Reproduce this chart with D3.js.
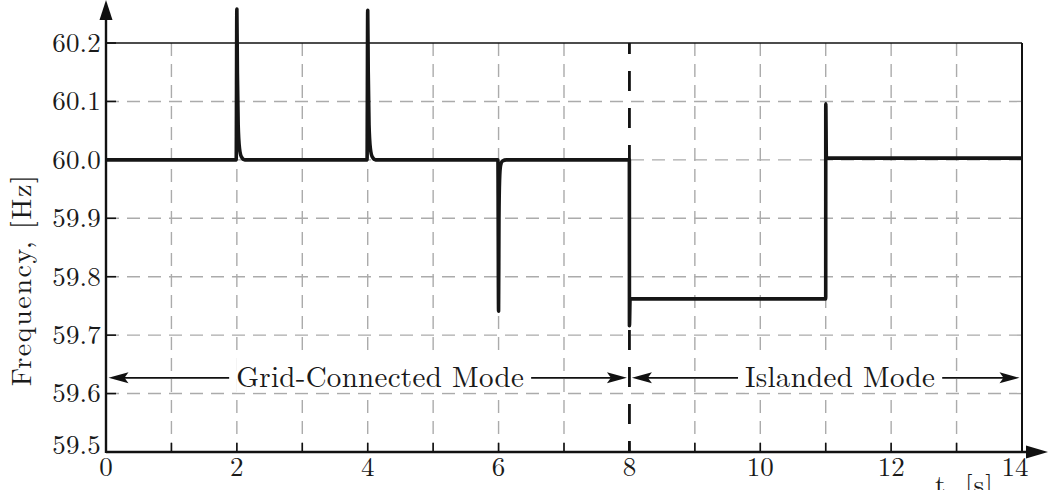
<!DOCTYPE html>
<html>
<head>
<meta charset="utf-8">
<script src="https://cdn.jsdelivr.net/npm/d3@7"></script>
<style>
  body { margin: 0; background: #fff; }
  svg { display: block; }
</style>
</head>
<body>
<div id="chart"></div>
<script>
// frequency trace (time in s, frequency in Hz)
var timeS = [0, 1.99, 2.0, 2.008, 2.02, 2.04, 2.07, 2.12,
    3.99, 4.0, 4.008, 4.02, 4.04, 4.07, 4.12,
    5.99, 6.0, 6.006, 6.015, 6.03, 6.06, 6.12,
    7.999, 8.0, 8.01, 11.0, 11.001, 11.01, 14];
var freqHz = [60.0, 60.0, 60.258, 60.15, 60.06, 60.02, 60.005, 60.0,
    60.0, 60.256, 60.15, 60.06, 60.02, 60.005, 60.0,
    60.0, 59.741, 59.9, 59.965, 59.99, 59.998, 60.0,
    60.0, 59.716, 59.762, 59.762, 60.096, 60.003, 60.003];

var xTicks = [0, 2, 4, 6, 8, 10, 12, 14];
var xGrid = [1, 2, 3, 4, 5, 6, 7, 9, 10, 11, 12, 13];
var yTicks = [59.5, 59.6, 59.7, 59.8, 59.9, 60.0, 60.1, 60.2];
var yGrid = [59.6, 59.7, 59.8, 59.9, 60.0, 60.1];

var switchTime = 8; // grid -> island
var modeNames = ["Grid-Connected Mode", "Islanded Mode"];
var modeSpans = [[0, 8], [8, 14]];
var modeCenters = [4.19, 11.22];
var modeLevel = 59.627;

var W = 1048, H = 490;
var plotLeft = 106, plotRight = 1022, plotTop = 43, plotBottom = 452;

// pick the first serif face that is really installed
function hasFont(name) {
    var ctx = document.createElement("canvas").getContext("2d");
    var probe = "mmmmmwwwlli 10.2 Hz";
    ctx.font = "40px monospace";
    var a = ctx.measureText(probe).width;
    ctx.font = "40px '" + name + "', monospace";
    var b = ctx.measureText(probe).width;
    return a !== b;
}
var serifNames = ["Latin Modern Roman", "CMU Serif", "Liberation Serif", "Tinos",
    "Times New Roman", "Nimbus Roman", "Nimbus Roman No9 L", "FreeSerif",
    "DejaVu Serif", "Noto Serif", "Noto Serif CJK SC", "Noto Serif CJK JP"];
var face = serifNames.filter(hasFont)[0];
var font = face ? "'" + face + "', serif" : "'Noto Sans', sans-serif";
var isSerif = !!face;

var x = d3.scaleLinear().domain([0, 14]).range([plotLeft, plotRight]);
var y = d3.scaleLinear().domain([59.5, 60.2]).range([plotBottom, plotTop]);

var svg = d3.select("#chart").append("svg")
    .attr("width", W)
    .attr("height", H)
    .style("font-family", font);

// grid
svg.append("g").selectAll("line")
    .data(xGrid)
    .enter().append("line")
    .attr("x1", function (d) { return x(d); })
    .attr("x2", function (d) { return x(d); })
    .attr("y1", plotTop).attr("y2", plotBottom)
    .attr("stroke", "#ababab")
    .attr("stroke-width", 1.4)
    .attr("stroke-dasharray", "13,8");
svg.append("g").selectAll("line")
    .data(yGrid)
    .enter().append("line")
    .attr("x1", plotLeft).attr("x2", plotRight)
    .attr("y1", function (d) { return y(d); })
    .attr("y2", function (d) { return y(d); })
    .attr("stroke", "#ababab")
    .attr("stroke-width", 1.4)
    .attr("stroke-dasharray", "13,8");

// top and right frame
svg.append("line")
    .attr("x1", plotLeft).attr("x2", plotRight)
    .attr("y1", y(60.2)).attr("y2", y(60.2))
    .attr("stroke", "#111").attr("stroke-width", 1.3);
svg.append("line")
    .attr("x1", plotRight).attr("x2", plotRight)
    .attr("y1", plotTop).attr("y2", plotBottom)
    .attr("stroke", "#111").attr("stroke-width", 2);

// ticks pointing inward
svg.append("g").selectAll("line")
    .data(d3.range(0, 15))
    .enter().append("line")
    .attr("x1", function (d) { return x(d); })
    .attr("x2", function (d) { return x(d); })
    .attr("y1", plotBottom).attr("y2", plotBottom - 9)
    .attr("stroke", "#111").attr("stroke-width", 1.6);
svg.append("g").selectAll("line")
    .data(yTicks)
    .enter().append("line")
    .attr("x1", plotLeft).attr("x2", plotLeft + 10)
    .attr("y1", function (d) { return y(d); })
    .attr("y2", function (d) { return y(d); })
    .attr("stroke", "#111").attr("stroke-width", 1.6);

// switching instant
svg.append("line")
    .attr("x1", x(switchTime)).attr("x2", x(switchTime))
    .attr("y1", plotTop).attr("y2", plotBottom)
    .attr("stroke", "#111")
    .attr("stroke-width", 2.8)
    .attr("stroke-dasharray", "20,17")
    .attr("stroke-dashoffset", 9);

// frequency trace
var pts = timeS.map(function (t, i) { return [t, freqHz[i]]; });
svg.append("path")
    .datum(pts)
    .attr("fill", "none")
    .attr("stroke", "#151515")
    .attr("stroke-width", 3.6)
    .attr("stroke-linejoin", "round")
    .attr("d", d3.line()
        .x(function (d) { return x(d[0]); })
        .y(function (d) { return y(d[1]); })
        .curve(d3.curveMonotoneX));

// mode annotations
function arrowHead(tipX, tipY, dir) {
    var len = 20, half = 5.5;
    return "M" + tipX + "," + tipY +
        "L" + (tipX - dir * len) + "," + (tipY - half) +
        "L" + (tipX - dir * len * 0.8) + "," + tipY +
        "L" + (tipX - dir * len) + "," + (tipY + half) + "Z";
}
var ay = y(modeLevel);
modeNames.forEach(function (name, i) {
    var g = svg.append("g");
    var bg = g.append("rect").attr("fill", "#fff");
    var txt = g.append("text")
        .attr("x", x(modeCenters[i]))
        .attr("y", ay)
        .attr("dy", "0.33em")
        .attr("text-anchor", "middle")
        .attr("font-size", isSerif ? 29 : 27)
        .attr("letter-spacing", isSerif ? 0.3 : 0.4)
        .attr("fill", "#1a1a1a")
        .text(name);
    var bb = txt.node().getBBox();
    bg.attr("x", bb.x).attr("y", bb.y + 3)
        .attr("width", bb.width).attr("height", bb.height - 6);
    var x0 = x(modeSpans[i][0]) + 2.5, x1 = x(modeSpans[i][1]) - 2.5;
    g.append("line")
        .attr("x1", x0 + 10).attr("x2", bb.x - 7)
        .attr("y1", ay).attr("y2", ay)
        .attr("stroke", "#111").attr("stroke-width", 1.8);
    g.append("line")
        .attr("x1", bb.x + bb.width + 7).attr("x2", x1 - 10)
        .attr("y1", ay).attr("y2", ay)
        .attr("stroke", "#111").attr("stroke-width", 1.8);
    g.append("path").attr("d", arrowHead(x0, ay, -1)).attr("fill", "#111");
    g.append("path").attr("d", arrowHead(x1, ay, 1)).attr("fill", "#111");
});

// axes with arrowheads
svg.append("line")
    .attr("x1", plotLeft).attr("x2", W - 12)
    .attr("y1", plotBottom).attr("y2", plotBottom)
    .attr("stroke", "#111").attr("stroke-width", 2.4);
svg.append("path")
    .attr("d", "M" + W + "," + plotBottom + "L" + (W - 22) + "," + (plotBottom - 6.5) + "L" + (W - 22) + "," + (plotBottom + 6.5) + "Z")
    .attr("fill", "#111");
svg.append("line")
    .attr("x1", plotLeft).attr("x2", plotLeft)
    .attr("y1", plotBottom + 1).attr("y2", 12)
    .attr("stroke", "#111").attr("stroke-width", 2.4);
svg.append("path")
    .attr("d", "M" + plotLeft + ",0L" + (plotLeft - 6.5) + ",20L" + (plotLeft + 6.5) + ",20Z")
    .attr("fill", "#111");

// tick labels
svg.append("g").selectAll("text")
    .data(xTicks)
    .enter().append("text")
    .attr("x", function (d) { return x(d) - (d === 14 ? 7 : 0); })
    .attr("y", plotBottom + 24)
    .attr("text-anchor", "middle")
    .attr("font-size", 27)
    .attr("fill", "#1a1a1a")
    .text(function (d) { return d; });
svg.append("g").selectAll("text")
    .data(yTicks)
    .enter().append("text")
    .attr("x", plotLeft - 5)
    .attr("y", function (d) { return y(d) - (d === 59.5 ? 7 : 0); })
    .attr("dy", "0.33em")
    .attr("text-anchor", "end")
    .attr("font-size", 27)
    .attr("letter-spacing", isSerif ? 0.2 : 0.6)
    .attr("fill", "#1a1a1a")
    .text(function (d) { return d.toFixed(1); });

// axis titles
svg.append("text")
    .attr("transform", "translate(31,280) rotate(-90)")
    .attr("text-anchor", "middle")
    .attr("font-size", 28)
    .attr("letter-spacing", isSerif ? 1.6 : 2.2)
    .attr("fill", "#1a1a1a")
    .text("Frequency, [Hz]");
svg.append("text")
    .attr("x", 935)
    .attr("y", 494)
    .attr("font-size", 27)
    .attr("letter-spacing", 1)
    .attr("fill", "#1a1a1a")
    .text("t, [s]");
</script>
</body>
</html>
